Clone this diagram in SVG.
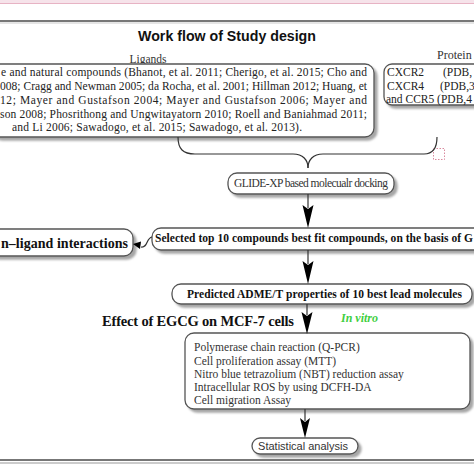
<svg xmlns="http://www.w3.org/2000/svg" width="474" height="474" viewBox="0 0 474 474">
<style>
.box{fill:#fff;stroke:#555;stroke-width:1.3;filter:url(#sh)}
.ser{font-family:"Liberation Serif","Times New Roman",serif}
.b{font-weight:bold}
.lig{font-size:11.5px;fill:#222}
.asy{font-size:11.5px;fill:#333}
.con{fill:none;stroke:#333;stroke-width:1.2}
.ah{fill:#000}
</style>
<defs>
<filter id="sh" x="-10%" y="-20%" width="130%" height="160%">
<feDropShadow dx="3" dy="3" stdDeviation="1" flood-color="#888" flood-opacity="0.75"/>
</filter>
</defs>
<rect width="474" height="474" fill="#fff"/>
<rect x="0" y="0" width="474" height="3.5" fill="#f6e3ea"/>
<line x1="0" y1="3.5" x2="474" y2="3.5" stroke="#e7b3c4" stroke-width="1"/>
<line x1="0" y1="21" x2="474" y2="21" stroke="#777" stroke-width="1.8"/>
<line x1="0" y1="23" x2="474" y2="23" stroke="#ddd" stroke-width="1.5"/>
<line x1="0" y1="460" x2="474" y2="460" stroke="#777" stroke-width="2"/>
<line x1="0" y1="463" x2="474" y2="463" stroke="#ccc" stroke-width="2"/>

<text x="227" y="41" text-anchor="middle" font-family="'Liberation Sans',Arial,sans-serif" font-weight="bold" font-size="14.2" fill="#111">Work flow of Study design</text>
<text x="148" y="63" text-anchor="middle" class="ser" font-size="11.5" fill="#333">Ligands</text>
<text x="437" y="59" class="ser" font-size="12" fill="#333">Protein</text>

<g id="ligands">
<rect class="box" x="-10" y="64" width="384" height="73" rx="9"/>
<text class="ser lig" x="1" y="76" textLength="366" lengthAdjust="spacing">e and natural compounds (Bhanot, et al. 2011; Cherigo, et al. 2015; Cho and</text>
<text class="ser lig" x="0" y="90" textLength="367" lengthAdjust="spacing">008; Cragg and Newman 2005; da Rocha, et al. 2001; Hillman 2012; Huang, et</text>
<text class="ser lig" x="0" y="104" textLength="367" lengthAdjust="spacing">12; Mayer and Gustafson 2004; Mayer and Gustafson 2006; Mayer and</text>
<text class="ser lig" x="0" y="118" textLength="367" lengthAdjust="spacing">son 2008; Phosrithong and Ungwitayatorn 2010; Roell and Baniahmad 2011;</text>
<text class="ser lig" x="12" y="131" textLength="290" lengthAdjust="spacing">and Li 2006; Sawadogo, et al. 2015; Sawadogo, et al. 2013).</text>
</g>

<g id="protein">
<rect class="box" x="384" y="64" width="110" height="41" rx="8"/>
<text class="ser lig" x="387" y="76">CXCR2</text>
<text class="ser lig" x="443" y="76">(PDB,</text>
<text class="ser lig" x="387" y="89.5">CXCR4</text>
<text class="ser lig" x="440" y="89.5">(PDB,3</text>
<text class="ser lig" x="386" y="103">and CCR5 (PDB,4</text>
</g>

<rect x="433.5" y="148.5" width="11" height="11" fill="none" stroke="#d98a9e" stroke-width="1" stroke-dasharray="1.5,1.5"/>

<g id="glide">
<rect class="box" x="228" y="173" width="166" height="21" rx="9"/>
<text class="ser" x="311" y="187" text-anchor="middle" font-size="11.5" fill="#333" textLength="154" lengthAdjust="spacing">GLIDE-XP based molecualr docking</text>
</g>

<g id="selected">
<rect class="box" x="152" y="228" width="340" height="22" rx="9"/>
<text class="ser b" x="155" y="242" font-size="11.5" fill="#111" textLength="318" lengthAdjust="spacing">Selected top 10 compounds best fit compounds, on the basis of G</text>
</g>

<g id="interactions">
<rect class="box" x="-12" y="229" width="145" height="27" rx="9"/>
<text class="ser b" x="1" y="248" font-size="14" fill="#111" textLength="127" lengthAdjust="spacing">n–ligand interactions</text>
</g>

<g id="predicted">
<rect class="box" x="172" y="284" width="300" height="20" rx="9"/>
<text class="ser b" x="187" y="298" font-size="11.5" fill="#111" textLength="275" lengthAdjust="spacing">Predicted ADME/T properties of 10 best lead molecules</text>
</g>

<g id="effect">
<text class="ser b" x="102" y="326" font-size="14.5" fill="#111" textLength="192" lengthAdjust="spacing">Effect of EGCG on MCF-7 cells</text>
<text class="ser b" x="341" y="322" font-size="12" font-style="italic" fill="#3fcf3f">In vitro</text>
</g>

<g id="assays">
<rect class="box" x="185" y="333" width="285" height="76" rx="9"/>
<text class="ser asy" x="194" y="351">Polymerase chain reaction (Q-PCR)</text>
<text class="ser asy" x="194" y="365">Cell proliferation assay (MTT)</text>
<text class="ser asy" x="194" y="378">Nitro blue tetrazolium (NBT) reduction assay</text>
<text class="ser asy" x="194" y="391">Intracellular ROS by using DCFH-DA</text>
<text class="ser asy" x="194" y="404">Cell migration Assay</text>
</g>

<g id="stats">
<rect class="box" x="252" y="438" width="106" height="16" rx="8"/>
<text x="303" y="450" text-anchor="middle" font-family="'Liberation Sans',Arial,sans-serif" font-size="11" fill="#333">Statistical analysis</text>
</g>

<g id="connectors">
<path class="con" d="M178,137 C178,149 183,154 195,154 L293,154 C303,154 308,160 308,168"/>
<path class="con" d="M308,168 C308,160 313,154 323,154 L424,154 C433,154 437,148 437,137"/>
<line class="con" x1="308" y1="194" x2="308" y2="208"/>
<path class="ah" d="M302.5,205 L308,209 L313.5,205 L308,228 Z"/>
<path class="con" d="M152,237 C146,238 148,248 141,247"/>
<path class="ah" d="M133,244 L141,241.5 L140,249 Z"/>
<line class="con" x1="308" y1="250" x2="308" y2="264"/>
<path class="ah" d="M302.5,261 L308,265 L313.5,261 L308,284 Z"/>
<line class="con" x1="307" y1="304" x2="307" y2="315"/>
<path class="ah" d="M301.5,312 L307,316 L312.5,312 L307,334 Z"/>
<line class="con" x1="305" y1="409" x2="305" y2="421"/>
<path class="ah" d="M300,418 L305,422 L310,418 L305,438 Z"/>
</g>
</svg>
